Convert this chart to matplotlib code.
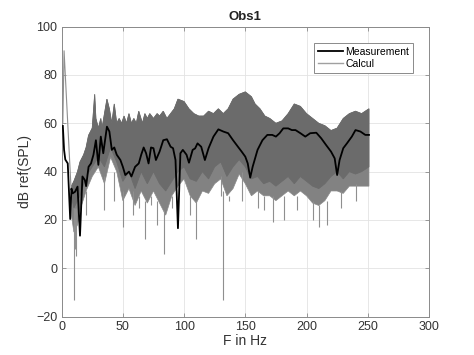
import matplotlib
matplotlib.use("Agg")
import matplotlib.pyplot as plt
import numpy as np
from matplotlib.lines import Line2D

plt.rcParams["font.family"] = ["Liberation Sans", "DejaVu Sans"]

# mesure (courbe noire)
meas_f = [1, 2, 3, 5, 7, 8, 9, 11, 13, 15, 17, 19, 20, 22, 24, 26, 28, 30, 32, 34,
          37, 39, 41, 43, 45, 48, 50, 52, 55, 57, 60, 63, 65, 67, 69, 71, 73, 75, 77, 80,
          83, 86, 89, 91, 93, 95, 97, 99, 102, 104, 107, 109, 111, 114, 117, 120, 124, 128, 132, 136,
          140, 144, 147, 150, 152, 154, 156, 160, 164, 168, 172, 175, 178, 181, 185, 188, 191, 195, 199, 203,
          208, 212, 216, 220, 223, 225, 227, 230, 233, 237, 240, 244, 248, 251]
meas_db = [58.9, 49, 45, 43.4, 20.4, 33, 31, 31.7, 33.8, 13.5, 38, 36.5, 34, 42, 43.4, 47, 53, 42.8, 54.5, 47.6,
           58.6, 56.6, 49, 50, 47, 44.8, 42, 38.6, 40, 38, 42, 43.4, 47, 50, 47.6, 43.4, 50, 49.7, 44.8, 48.3,
           53, 53.4, 50.3, 49.7, 44.8, 16.6, 47.6, 49, 47, 43.7, 49, 49.6, 51.7, 50.3, 44.8, 49.7, 54.5, 57.5, 56.6, 55.9,
           53, 50.3, 48.3, 46.2, 43.4, 37.5, 42, 49, 53, 55.2, 55.2, 54.5, 55.9, 57.9, 57.9, 57.2, 57.2, 55.9, 54.5, 55.9,
           56.1, 53.8, 51, 48.3, 45.5, 38.6, 44.8, 49.7, 51.7, 54.5, 57.2, 56.6, 55.2, 55.2]

# calculs : premier trait isole en basse frequence
first_f = [1, 2, 8]
first_db = [60, 90, 30]

# calculs : bord superieur du faisceau
hi_f = [8, 10, 13, 15, 18, 20, 22, 25, 27, 28, 30, 32, 33, 35, 37, 39, 41, 43, 45, 47,
        49, 51, 53, 55, 57, 59, 61, 63, 66, 68, 70, 72, 75, 78, 80, 83, 86, 89, 92, 95,
        100, 104, 108, 112, 116, 120, 124, 128, 132, 136, 140, 145, 150, 155, 158, 162, 166, 170, 175, 180,
        185, 190, 195, 200, 205, 210, 215, 220, 225, 230, 235, 240, 245, 251]
hi_db = [34, 36, 40, 44, 47, 50, 55, 58, 72, 62, 58, 62, 58, 64, 70, 66, 60, 68, 60, 62,
         60, 63, 60, 64, 60, 62, 60, 65, 60, 64, 62, 64, 62, 64, 63, 65, 62, 64, 66, 70,
         69, 66, 64, 63, 63, 65, 64, 66, 64, 66, 70, 72, 73, 71, 68, 66, 63, 62, 60, 61,
         64, 68, 67, 64, 62, 60, 59, 57, 58, 62, 64, 65, 64, 66]

# calculs : bord inferieur du coeur sombre et de la frange claire
lo_f = [8, 10, 13, 15, 20, 25, 30, 35, 40, 45, 50, 55, 60, 65, 70, 75, 80, 85, 90, 95,
        100, 105, 110, 115, 120, 125, 130, 135, 140, 145, 150, 155, 160, 165, 170, 175, 180, 185, 190, 195,
        200, 205, 210, 215, 220, 225, 230, 235, 240, 245, 251]
core_lo = [30, 25, 28, 30, 38, 42, 46, 42, 50, 44, 36, 40, 33, 40, 35, 40, 35, 32, 36, 40,
           42, 37, 36, 40, 37, 42, 44, 38, 42, 45, 42, 37, 38, 35, 36, 34, 36, 38, 35, 38,
           36, 34, 33, 35, 38, 40, 37, 40, 39, 40, 42]
fringe_lo = [22, 15, 18, 24, 32, 38, 42, 35, 46, 40, 28, 33, 26, 32, 27, 32, 27, 22, 30, 34,
             37, 30, 27, 32, 31, 35, 37, 30, 33, 39, 35, 30, 32, 30, 30, 28, 30, 32, 30, 32,
             30, 27, 26, 28, 32, 32, 31, 34, 34, 34, 34]

# pics descendants isoles des calculs
spike_f = [10, 11, 12, 20, 35, 43, 50, 58, 63, 68, 73, 78, 84, 90, 105, 110, 130, 132, 137, 147,
           160, 165, 173, 182, 192, 205, 210, 217, 228, 240]
spike_db = [-13, 8, 5, 22, 24, 28, 17, 22, 25, 12, 26, 18, 6, 25, 22, 12, 30, -13, 28, 28,
            25, 24, 19, 20, 24, 20, 17, 18, 25, 28]
spike_top = [25, 25, 25, 32, 38, 40, 32, 32, 30, 28, 30, 28, 24, 30, 30, 28, 38, 32, 30, 40,
             32, 30, 30, 30, 30, 28, 26, 28, 32, 35]

fig = plt.figure(figsize=(4.74, 3.55), dpi=100)
ax = fig.add_axes((0.130, 0.108, 0.775, 0.817))

ax.fill(np.r_[hi_f, lo_f[::-1]], np.r_[hi_db, fringe_lo[::-1]],
        facecolor="#828282", edgecolor="#8a8a8a", lw=0.5, zorder=2)
ax.fill(np.r_[hi_f, lo_f[::-1]], np.r_[hi_db, core_lo[::-1]],
        facecolor="#6b6b6b", edgecolor="#6b6b6b", lw=0.6, zorder=2)
ax.vlines(spike_f, spike_db, spike_top, color="#8f8f8f", lw=0.8, zorder=2)
ax.plot(first_f, first_db, color="#8f8f8f", lw=0.8, zorder=2)
ax.plot(meas_f, meas_db, color="black", lw=1.3, zorder=3)

ax.set_xlim(0, 300)
ax.set_ylim(-20, 100)
ax.set_xticks(range(0, 301, 50))
ax.set_yticks(range(-20, 101, 20))
ax.grid(True, color="#e3e3e3", lw=0.6)
ax.set_axisbelow(True)
for s in ax.spines.values():
    s.set_color("#8a8a8a")
    s.set_linewidth(0.7)
ax.tick_params(direction="in", length=3, width=0.6, color="#8a8a8a",
               labelsize=9, labelcolor="#333333", top=True, right=True, pad=3)

ax.set_title("Obs1", fontsize=9.5, fontweight="bold", color="#222222", pad=5)
ax.set_xlabel("F in Hz", fontsize=10, color="#333333", labelpad=1)
ax.set_ylabel("dB ref(SPL)", fontsize=10, color="#333333", labelpad=3)

handles = [Line2D([], [], color="black", lw=1.3), Line2D([], [], color="#a0a0a0", lw=1.0)]
leg = ax.legend(handles, ["Measurement", "Calcul"], loc="upper right", fontsize=7.5,
                fancybox=False, framealpha=1, edgecolor="#8a8a8a", borderpad=0.35,
                handlelength=2.4, handletextpad=0.2, labelspacing=0.25,
                bbox_to_anchor=(0.97, 0.962))
leg.get_frame().set_linewidth(0.7)

fig.savefig("out.png", dpi=100)
